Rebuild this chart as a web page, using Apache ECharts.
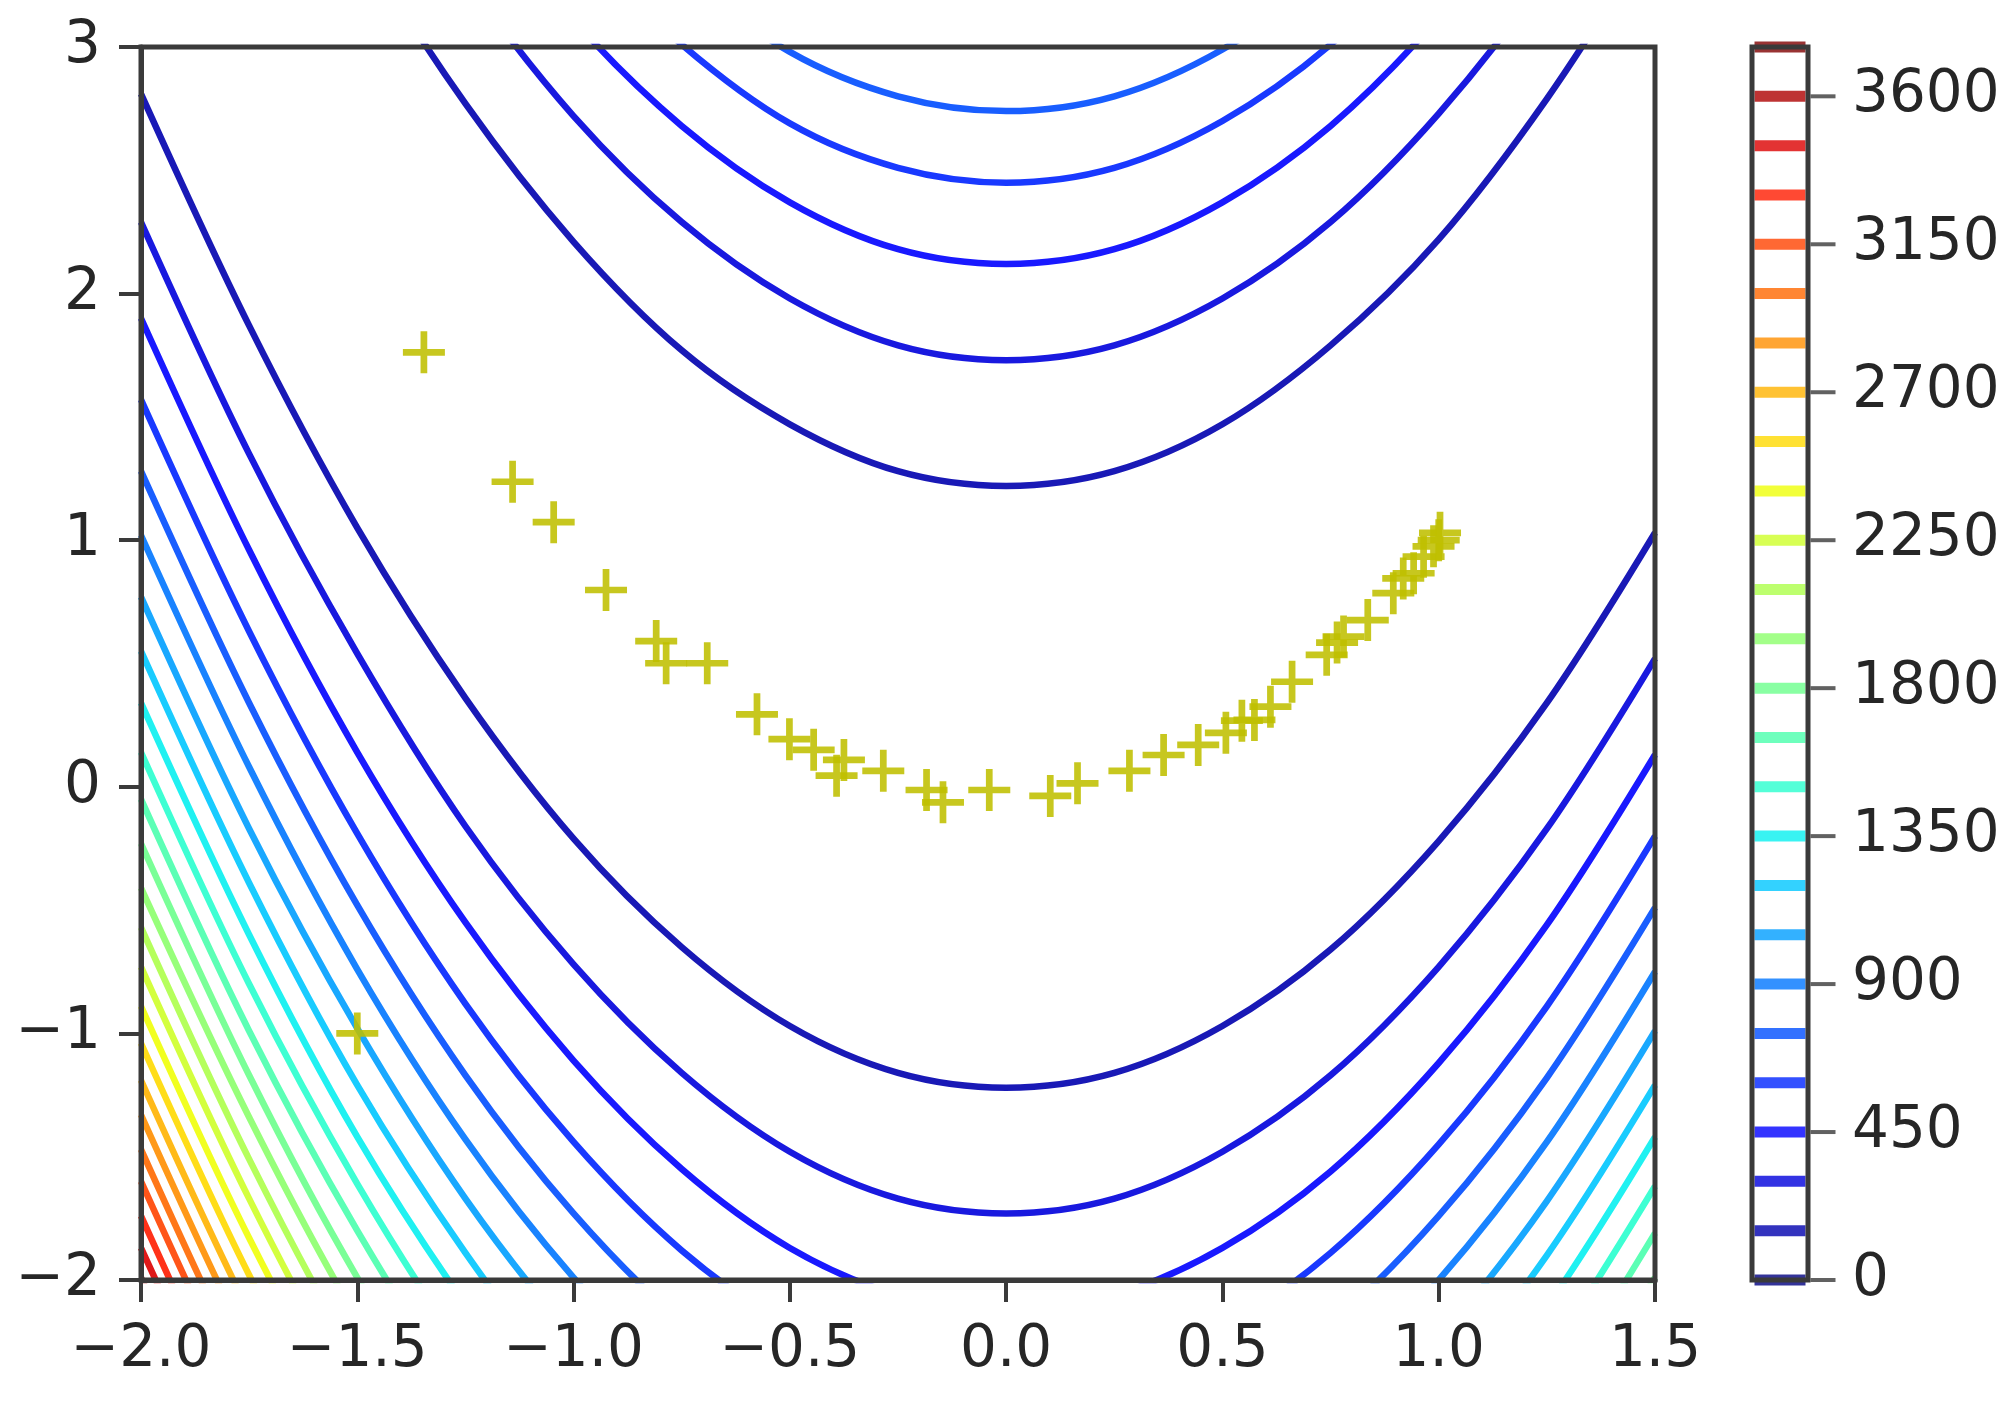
<!DOCTYPE html>
<html>
<head>
<meta charset="utf-8">
<script src="https://cdn.jsdelivr.net/npm/echarts@6/dist/echarts.min.js"></script>
<style>
  html, body { margin: 0; padding: 0; background: #fff; }
  #main { width: 2012px; height: 1405px; }
</style>
</head>
<body>
<div id="main"></div>
<script>
var xGrid = [-2, -1.75, -1.5, -1.25, -1, -0.75, -0.5, -0.25, 0, 0.25, 0.5, 0.75, 1, 1.25, 1.5];

// lower (valley) branch of every contour level, y at each xGrid point
var lowerLevels = [150, 300, 450, 600, 750, 900, 1050, 1200, 1350, 1500, 1650, 1800,
                   1950, 2100, 2250, 2400, 2550, 2700, 2850, 3000, 3150, 3300, 3450, 3600];
var lowerY = [
  [2.81, 1.87, 1.05, 0.36, -0.21, -0.65, -0.97, -1.16, -1.22, -1.16, -0.97, -0.66, -0.22, 0.34, 1.03],
  [2.29, 1.35, 0.54, -0.16, -0.72, -1.16, -1.48, -1.67, -1.73, -1.67, -1.48, -1.17, -0.73, -0.17, 0.52],
  [1.90, 0.96, 0.14, -0.55, -1.11, -1.55, -1.87, -2.06, -2.12, -2.06, -1.87, -1.56, -1.12, -0.56, 0.13],
  [1.57, 0.63, -0.19, -0.88, -1.44, -1.88, -2.19, -2.38, -2.45, -2.39, -2.20, -1.89, -1.45, -0.89, -0.20],
  [1.28, 0.34, -0.48, -1.17, -1.73, -2.17, -2.48, -2.67, -2.74, -2.68, -2.49, -2.18, -1.74, -1.18, -0.49],
  [1.02, 0.08, -0.74, -1.43, -1.99, -2.43, -2.75, -2.93, -3.00, -2.94, -2.75, -2.44, -2.00, -1.44, -0.75],
  [0.77, -0.17, -0.98, -1.67, -2.23, -2.67, -2.99, -3.18, -3.24, -3.18, -2.99, -2.68, -2.24, -1.68, -0.99],
  [0.55, -0.39, -1.21, -1.89, -2.46, -2.90, -3.21, -3.40, -3.46, -3.40, -3.21, -2.90, -2.46, -1.90, -1.21],
  [0.34, -0.60, -1.42, -2.10, -2.67, -3.11, -3.42, -3.61, -3.67, -3.61, -3.42, -3.11, -2.67, -2.11, -1.42],
  [0.14, -0.80, -1.61, -2.30, -2.87, -3.31, -3.62, -3.81, -3.87, -3.81, -3.62, -3.31, -2.87, -2.31, -1.62],
  [-0.05, -0.99, -1.80, -2.49, -3.06, -3.50, -3.81, -4.00, -4.06, -4.00, -3.81, -3.50, -3.06, -2.50, -1.81],
  [-0.23, -1.17, -1.99, -2.67, -3.24, -3.68, -3.99, -4.18, -4.24, -4.18, -3.99, -3.68, -3.24, -2.68, -1.99],
  [-0.41, -1.34, -2.16, -2.85, -3.41, -3.85, -4.16, -4.35, -4.41, -4.35, -4.17, -3.85, -3.42, -2.85, -2.17],
  [-0.57, -1.51, -2.33, -3.01, -3.58, -4.02, -4.33, -4.52, -4.58, -4.52, -4.33, -4.02, -3.58, -3.02, -2.33],
  [-0.73, -1.67, -2.49, -3.18, -3.74, -4.18, -4.49, -4.68, -4.74, -4.68, -4.49, -4.18, -3.74, -3.18, -2.49],
  [-0.89, -1.83, -2.64, -3.33, -3.89, -4.33, -4.65, -4.83, -4.90, -4.84, -4.65, -4.34, -3.90, -3.34, -2.65],
  [-1.04, -1.98, -2.79, -3.48, -4.05, -4.48, -4.80, -4.99, -5.05, -4.99, -4.80, -4.49, -4.05, -3.49, -2.80],
  [-1.19, -2.13, -2.94, -3.63, -4.19, -4.63, -4.94, -5.13, -5.20, -5.13, -4.95, -4.63, -4.20, -3.63, -2.95],
  [-1.33, -2.27, -3.08, -3.77, -4.33, -4.77, -5.09, -5.27, -5.34, -5.28, -5.09, -4.78, -4.34, -3.78, -3.09],
  [-1.47, -2.41, -3.22, -3.91, -4.47, -4.91, -5.23, -5.41, -5.48, -5.41, -5.23, -4.91, -4.48, -3.91, -3.23],
  [-1.60, -2.54, -3.36, -4.05, -4.61, -5.05, -5.36, -5.55, -5.61, -5.55, -5.36, -5.05, -4.61, -4.05, -3.36],
  [-1.74, -2.68, -3.49, -4.18, -4.74, -5.18, -5.49, -5.68, -5.74, -5.68, -5.49, -5.18, -4.74, -4.18, -3.49],
  [-1.87, -2.80, -3.62, -4.31, -4.87, -5.31, -5.62, -5.81, -5.87, -5.81, -5.62, -5.31, -4.87, -4.31, -3.62],
  [-1.99, -2.93, -3.74, -4.43, -5.00, -5.44, -5.75, -5.94, -6.00, -5.94, -5.75, -5.44, -5.00, -4.44, -3.75]
];

// upper branch (the arcs hanging from the top edge)
var upperLevels = [150, 300, 450, 600, 750];
var upperY = [
  [5.19, 4.26, 3.45, 2.77, 2.21, 1.77, 1.47, 1.28, 1.22, 1.28, 1.47, 1.79, 2.22, 2.79, 3.47],
  [5.71, 4.77, 3.96, 3.28, 2.72, 2.29, 1.98, 1.79, 1.73, 1.79, 1.98, 2.29, 2.73, 3.29, 3.98],
  [6.10, 5.17, 4.36, 3.67, 3.11, 2.68, 2.37, 2.18, 2.12, 2.18, 2.37, 2.68, 3.12, 3.68, 4.37],
  [6.43, 5.50, 4.69, 4.00, 3.44, 3.01, 2.69, 2.51, 2.45, 2.51, 2.70, 3.01, 3.45, 4.01, 4.70],
  [6.72, 5.79, 4.98, 4.29, 3.73, 3.30, 2.98, 2.80, 2.74, 2.80, 2.99, 3.30, 3.74, 4.30, 4.99]
];

// optimiser path ('+' markers)
var pathX = [-1.5, -1.346, -1.141, -1.046, -0.925, -0.809, -0.786, -0.691, -0.576, -0.501,
             -0.445, -0.375, -0.392, -0.284, -0.184, -0.146, -0.039, 0.102, 0.165, 0.285,
             0.364, 0.444, 0.508, 0.545, 0.574, 0.611, 0.661, 0.741, 0.765, 0.780,
             0.836, 0.895, 0.918, 0.942, 0.965, 0.988, 1.0, 1.003];
var pathY = [-1.0, 1.762, 1.237, 1.073, 0.798, 0.591, 0.501, 0.501, 0.294, 0.193,
             0.150, 0.109, 0.045, 0.065, -0.013, -0.063, -0.013, -0.037, 0.014, 0.065,
             0.129, 0.170, 0.219, 0.268, 0.271, 0.325, 0.426, 0.535, 0.585, 0.609,
             0.676, 0.785, 0.845, 0.866, 0.933, 0.975, 1.0, 1.03];

// colorbar
var cbLevels = [0, 150, 300, 450, 600, 750, 900, 1050, 1200, 1350, 1500, 1650, 1800,
                1950, 2100, 2250, 2400, 2550, 2700, 2850, 3000, 3150, 3300, 3450, 3600, 3750];
var cbTicks = [0, 450, 900, 1350, 1800, 2250, 2700, 3150, 3600];
var cbMax = 3750;

// matplotlib 'jet' colormap
function seg(t, pts) {
  for (var i = 1; i < pts.length; i++) {
    if (t <= pts[i][0]) {
      var a = pts[i - 1], b = pts[i];
      return a[1] + (b[1] - a[1]) * (t - a[0]) / (b[0] - a[0]);
    }
  }
  return pts[pts.length - 1][1];
}
function jet(t) {
  var r = seg(t, [[0, 0], [0.35, 0], [0.66, 1], [0.89, 1], [1, 0.5]]);
  var g = seg(t, [[0, 0], [0.125, 0], [0.375, 1], [0.64, 1], [0.91, 0], [1, 0]]);
  var b = seg(t, [[0, 0.5], [0.11, 1], [0.34, 1], [0.65, 0], [1, 0]]);
  return 'rgb(' + Math.round(r * 255) + ',' + Math.round(g * 255) + ',' + Math.round(b * 255) + ')';
}

function minus(s) { return String(s).replace('-', '\u2212'); }

var FONT = 'DejaVu Sans';
var AXIS_COLOR = '#3a3a3a';

var series = [];
function addCurve(level, ys) {
  series.push({
    type: 'line',
    xAxisIndex: 0,
    yAxisIndex: 0,
    data: xGrid.map(function (x, j) { return [x, ys[j]]; }),
    smooth: 0.33,
    symbol: 'none',
    silent: true,
    clip: true,
    lineStyle: { color: jet(level / cbMax), width: 6.5, opacity: 0.9 },
    z: 2
  });
}
lowerLevels.forEach(function (lv, i) { addCurve(lv, lowerY[i]); });
upperLevels.forEach(function (lv, i) { addCurve(lv, upperY[i]); });

series.push({
  type: 'scatter',
  xAxisIndex: 0,
  yAxisIndex: 0,
  data: pathX.map(function (x, i) { return [x, pathY[i]]; }),
  symbol: 'path://M-20,-3.2 L20,-3.2 L20,3.2 L-20,3.2 Z M-3.2,-20 L3.2,-20 L3.2,20 L-3.2,20 Z',
  symbolSize: 42,
  itemStyle: { color: '#bfbf00', opacity: 0.88 },
  silent: true,
  z: 3
});

// colour bands of the colorbar
series.push({
  type: 'scatter',
  xAxisIndex: 1,
  yAxisIndex: 1,
  data: cbLevels.map(function (v) {
    return { value: [0.5, v], itemStyle: { color: jet(v / cbMax), opacity: 0.8 } };
  }),
  symbol: 'rect',
  symbolSize: [51, 11],
  clip: false,
  silent: true,
  z: 2
});

// colorbar tick marks, sticking out of the right edge
series.push({
  type: 'scatter',
  xAxisIndex: 1,
  yAxisIndex: 1,
  data: cbTicks.map(function (v) { return [1, v]; }),
  symbol: 'rect',
  symbolSize: [25, 4],
  symbolOffset: [15, 0],
  itemStyle: { color: AXIS_COLOR },
  clip: false,
  silent: true,
  z: 11
});

var labelStyle = { fontFamily: FONT, fontSize: 58, color: '#262626', lineHeight: 58 };

var chart = echarts.init(document.getElementById('main'));
chart.setOption({
  animation: false,
  backgroundColor: '#fff',
  grid: [
    { left: 141, top: 47, width: 1514, height: 1233, show: true, borderColor: AXIS_COLOR,
      borderWidth: 5, backgroundColor: 'transparent', z: 10 },
    { left: 1752, top: 47, width: 56, height: 1233, show: true, borderColor: AXIS_COLOR,
      borderWidth: 5, backgroundColor: 'transparent', z: 10 }
  ],
  xAxis: [
    {
      type: 'value', gridIndex: 0, min: -2, max: 1.5, interval: 0.5,
      axisLine: { show: true, onZero: false, lineStyle: { color: AXIS_COLOR, width: 5 } },
      axisTick: { show: true, length: 22, lineStyle: { color: AXIS_COLOR, width: 4 } },
      axisLabel: Object.assign({ margin: 42, formatter: function (v) { return minus(v.toFixed(1)); } }, labelStyle),
      splitLine: { show: false },
      z: 10
    },
    { type: 'value', gridIndex: 1, min: 0, max: 1, show: false }
  ],
  yAxis: [
    {
      type: 'value', gridIndex: 0, min: -2, max: 3, interval: 1,
      axisLine: { show: true, onZero: false, lineStyle: { color: AXIS_COLOR, width: 5 } },
      axisTick: { show: true, length: 22, lineStyle: { color: AXIS_COLOR, width: 4 } },
      axisLabel: Object.assign({ margin: 40, formatter: function (v) { return minus(v); } }, labelStyle),
      splitLine: { show: false },
      z: 10
    },
    {
      type: 'value', gridIndex: 1, position: 'right', min: 0, max: cbMax, interval: 450,
      axisLine: { show: false },
      axisTick: { show: false },
      axisLabel: Object.assign({
        margin: 44,
        formatter: function (v) { return cbTicks.indexOf(v) >= 0 ? String(v) : ''; }
      }, labelStyle),
      splitLine: { show: false },
      z: 10
    }
  ],
  series: series
});
</script>
</body>
</html>
